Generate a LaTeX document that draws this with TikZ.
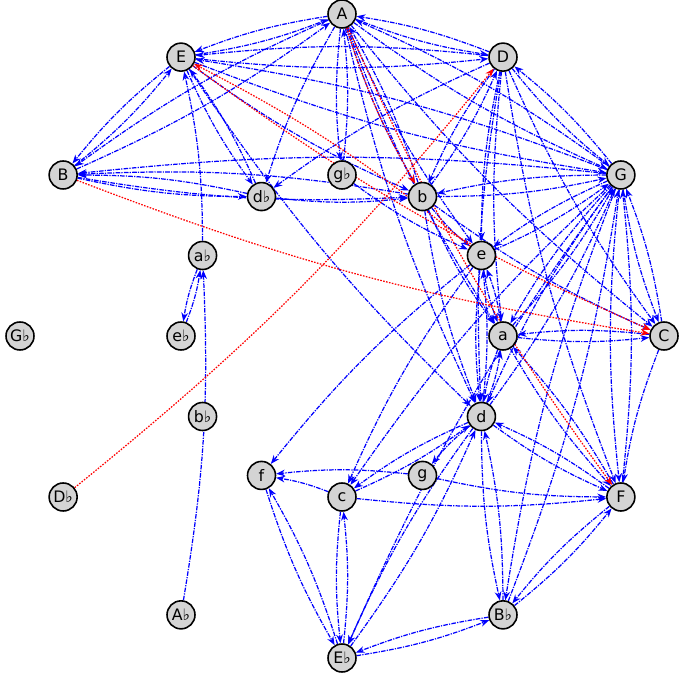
\documentclass[tikz,border=0pt]{standalone}
\usepackage{fontspec}
\setmainfont{DejaVu Sans}
\usetikzlibrary{arrows.meta,backgrounds}
\newcommand\bi[2]{\draw[be] (#1) to (#2); \draw[be] (#2) to (#1);}
\newcommand\one[2]{\draw[be] (#1) to (#2);}
\newcommand\rd[2]{\draw[re] (#1) to (#2);}
\begin{document}
\begin{tikzpicture}[x=0.02cm,y=0.02cm,
  key/.style={circle,draw=black,line width=0.9pt,fill=black!17,minimum size=0.56cm,inner sep=0pt,font=\fontsize{9}{10}\selectfont},
  be/.style={blue,line width=0.7pt,dash pattern=on 2.6pt off 0.7pt on 0.7pt off 0.7pt,-{Stealth[length=5pt,width=3.8pt]},bend right=6},
  re/.style={red,line width=0.7pt,dash pattern=on 0.9pt off 0.8pt,-{Stealth[length=5pt,width=3.8pt]},bend right=6}]
\useasboundingbox (0,0) rectangle (685,675);
\begin{scope}[shift={(342,339)}]
\node[key] (A) at (90:322) {A};
\node[key] (D) at (60:322) {D};
\node[key] (G) at (30:322) {G};
\node[key] (C) at (0:322) {C};
\node[key] (F) at (-30:322) {F};
\node[key] (Bb) at (-60:322) {B♭};
\node[key] (Eb) at (-90:322) {E♭};
\node[key] (Ab) at (-120:322) {A♭};
\node[key] (Db) at (-150:322) {D♭};
\node[key] (Gb) at (180:322) {G♭};
\node[key] (B) at (150:322) {B};
\node[key] (E) at (120:322) {E};
\node[key] (mgb) at (90:161) {g♭};
\node[key] (mb) at (60:161) {b};
\node[key] (me) at (30:161) {e};
\node[key] (ma) at (0:161) {a};
\node[key] (md) at (-30:161) {d};
\node[key] (mg) at (-60:161) {g};
\node[key] (mc) at (-90:161) {c};
\node[key] (mf) at (-120:161) {f};
\node[key] (mbb) at (-150:161) {b♭};
\node[key] (meb) at (180:161) {e♭};
\node[key] (mab) at (150:161) {a♭};
\node[key] (mdb) at (120:161) {d♭};
\end{scope}
\begin{pgfonlayer}{background}
\bi{A}{E}
\bi{A}{D}
\bi{A}{B}
\bi{A}{G}
\bi{A}{mgb}
\bi{A}{mb}
\one{A}{C}
\one{A}{ma}
\one{A}{me}
\one{A}{mdb}
\one{A}{md}
\bi{E}{B}
\bi{E}{D}
\bi{E}{G}
\bi{E}{mdb}
\one{E}{mb}
\one{E}{md}
\bi{B}{mdb}
\bi{B}{mb}
\one{G}{B}
\bi{D}{G}
\bi{D}{mb}
\one{D}{me}
\one{D}{ma}
\one{D}{md}
\one{D}{mdb}
\one{D}{C}
\one{D}{F}
\bi{G}{mb}
\bi{G}{me}
\bi{G}{ma}
\bi{G}{C}
\bi{G}{F}
\bi{G}{md}
\bi{G}{Bb}
\one{G}{Eb}
\one{G}{mc}
\one{mgb}{me}
\bi{C}{ma}
\one{C}{F}
\bi{F}{ma}
\bi{F}{md}
\bi{F}{Bb}
\one{mg}{F}
\one{mc}{F}
\bi{Bb}{md}
\bi{Bb}{Eb}
\bi{Eb}{mc}
\bi{Eb}{mf}
\bi{Eb}{md}
\bi{mab}{meb}
\one{Ab}{mab}
\one{mab}{E}
\bi{md}{ma}
\bi{md}{me}
\one{md}{mg}
\bi{md}{mc}
\bi{ma}{me}
\one{mb}{me}
\one{mb}{ma}
\one{mb}{md}
\one{mdb}{mb}
\one{me}{mf}
\one{me}{mc}
\one{mg}{mf}
\one{mc}{mf}
\one{mb}{C}
\rd{Db}{D}
\rd{E}{C}
\rd{me}{E}
\rd{B}{C}
\rd{A}{F}
\rd{A}{mb}
\end{pgfonlayer}
\end{tikzpicture}
\end{document}
